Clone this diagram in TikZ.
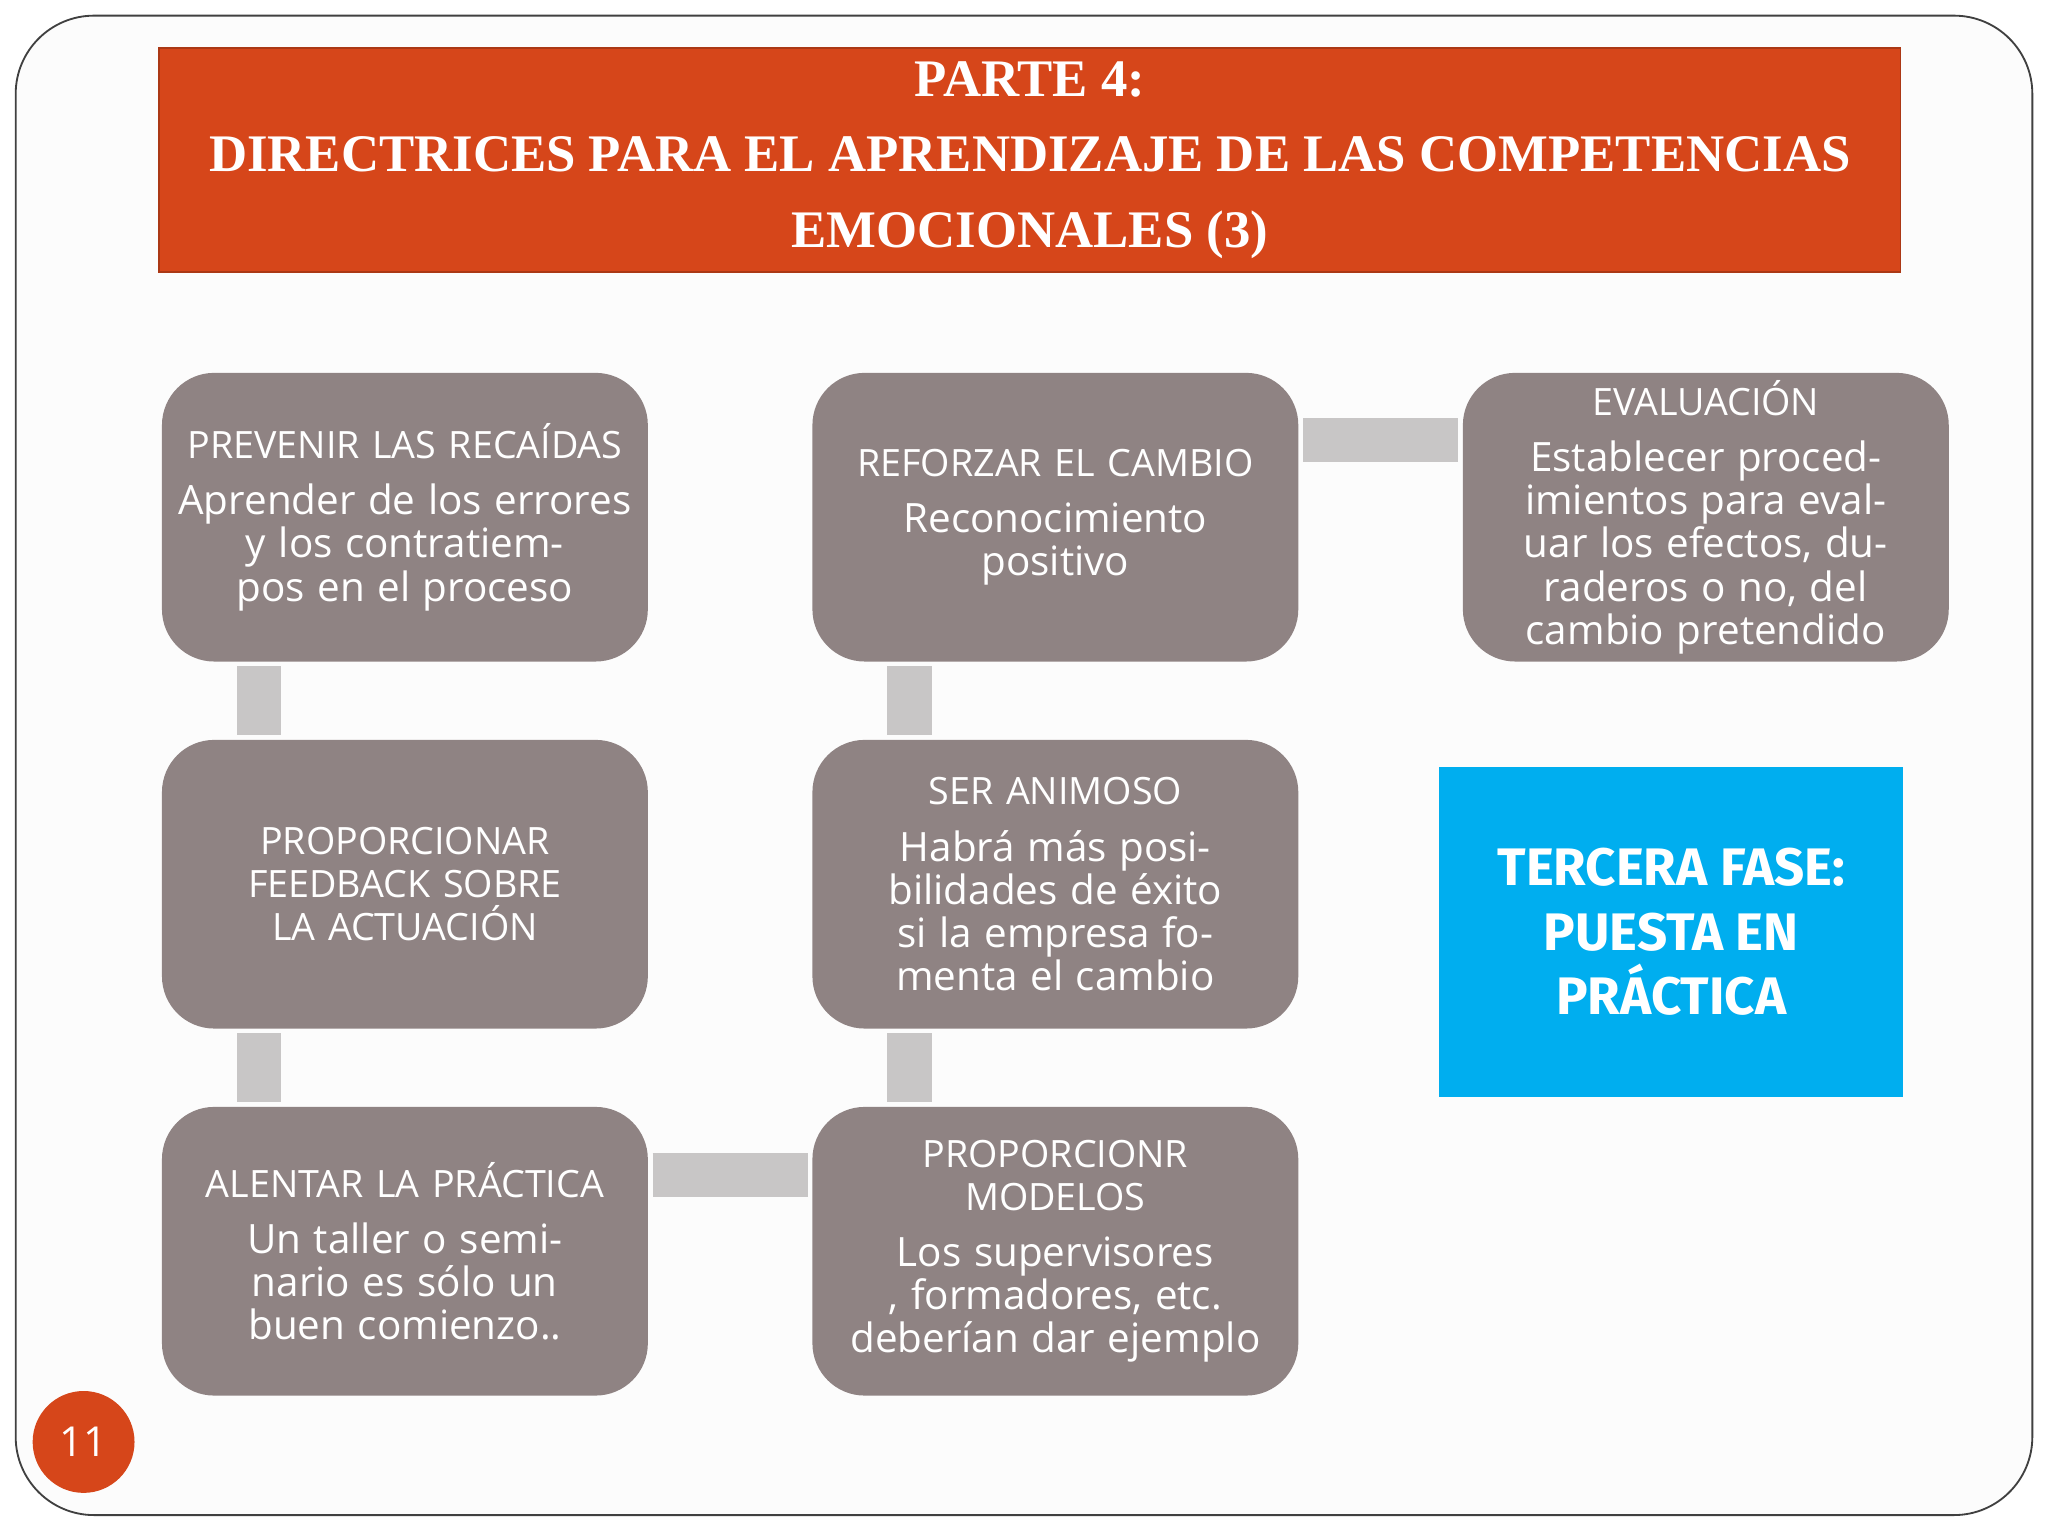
\documentclass[tikz,border=0pt]{standalone}
\usepackage{fontspec}
\setmainfont{Liberation Serif}
\newfontfamily\boxfont{Open Sans}
\newfontfamily\fasefont{Fira Sans}
\definecolor{frame}{HTML}{404040}
\definecolor{rust}{HTML}{D6461A}
\definecolor{stone}{HTML}{8F8383}
\definecolor{link}{HTML}{C8C6C6}
\definecolor{sky}{HTML}{00AEEF}
\tikzset{
  stepbox/.style={fill=stone, rounded corners=4mm, minimum width=3.72cm,
    minimum height=2.21cm, text width=3.5cm, align=center, text=white,
    font=\boxfont\fontsize{8.2}{9.4}\selectfont, inner sep=0pt},
  bar/.style={draw=link, line width=3.4mm}
}
\begin{document}
\begin{tikzpicture}[x=1cm,y=1cm]
\useasboundingbox (0,0) rectangle (15.68,11.76);
\fill[white] (0,0) rectangle (15.68,11.76);
\draw[frame, line width=0.4pt, rounded corners=6mm, fill=black!1] (0.12,0.16) rectangle (15.56,11.64);

% title
\node[fill=rust, draw=rust!80!black, minimum width=13.33cm, minimum height=1.71cm,
  text=white, align=center, font=\bfseries\fontsize{11.5}{16.5}\selectfont, inner sep=0pt]
  (title) at (7.885,10.535) {PARTE 4:\\DIRECTRICES PARA EL APRENDIZAJE DE LAS COMPETENCIAS\\EMOCIONALES (3)};

% boxes
\node[stepbox] (prevenir) at (3.10,7.80) {PREVENIR LAS RECA\'IDAS\\[1mm]\fontsize{8.8}{9.4}\selectfont Aprender de los errores y los contratiempos en el proceso};
\node[stepbox] (feedback) at (3.10,4.99) {PROPORCIONAR FEEDBACK SOBRE LA ACTUACI\'ON};
\node[stepbox] (alentar) at (3.10,2.18) {ALENTAR LA PR\'ACTICA\\[1mm]\fontsize{8.8}{9.4}\selectfont Un taller o seminario es s\'olo un buen comienzo..};
\node[stepbox] (reforzar) at (8.08,7.80) {REFORZAR EL CAMBIO\\[1mm]\fontsize{8.8}{9.4}\selectfont Reconocimiento positivo};
\node[stepbox] (animoso) at (8.08,4.99) {SER ANIMOSO\\[1mm]\fontsize{8.8}{9.4}\selectfont Habr\'a m\'as posibilidades de \'exito si la empresa fomenta el cambio};
\node[stepbox] (modelos) at (8.08,2.18) {PROPORCIONR MODELOS\\[1mm]\fontsize{8.8}{9.4}\selectfont Los supervisores , formadores, etc. deber\'ian dar ejemplo};
\node[stepbox] (evaluacion) at (13.06,7.80) {EVALUACI\'ON\\[1mm]\fontsize{8.8}{9.4}\selectfont Establecer procedimientos para evaluar los efectos, duraderos o no, del cambio pretendido};

% phase
\node[fill=sky, minimum width=3.55cm, minimum height=2.53cm, text=white, align=center,
  font=\fasefont\bfseries\fontsize{11.5}{14}\selectfont] (fase) at (12.795,4.625)
  {TERCERA FASE:\\PUESTA EN\\PR\'ACTICA};

% links
\draw[bar] ([xshift=7.5mm,yshift=-0.3mm]prevenir.south west) -- ([xshift=7.5mm,yshift=0.3mm]feedback.north west);
\draw[bar] ([xshift=7.5mm,yshift=-0.3mm]feedback.south west) -- ([xshift=7.5mm,yshift=0.3mm]alentar.north west);
\draw[bar] ([xshift=7.5mm,yshift=-0.3mm]reforzar.south west) -- ([xshift=7.5mm,yshift=0.3mm]animoso.north west);
\draw[bar] ([xshift=7.5mm,yshift=-0.3mm]animoso.south west) -- ([xshift=7.5mm,yshift=0.3mm]modelos.north west);
\draw[bar] ([xshift=0.3mm,yshift=-5.3mm]alentar.north east) -- ([xshift=-0.3mm,yshift=-5.3mm]modelos.north west);
\draw[bar] ([xshift=0.3mm,yshift=-5.2mm]reforzar.north east) -- ([xshift=-0.3mm,yshift=-5.2mm]evaluacion.north west);

% page number
\node[circle, fill=rust, minimum size=0.78cm, text=white, font=\boxfont\fontsize{9}{10}\selectfont] (page) at (0.64,0.72) {11};
\end{tikzpicture}
\end{document}
